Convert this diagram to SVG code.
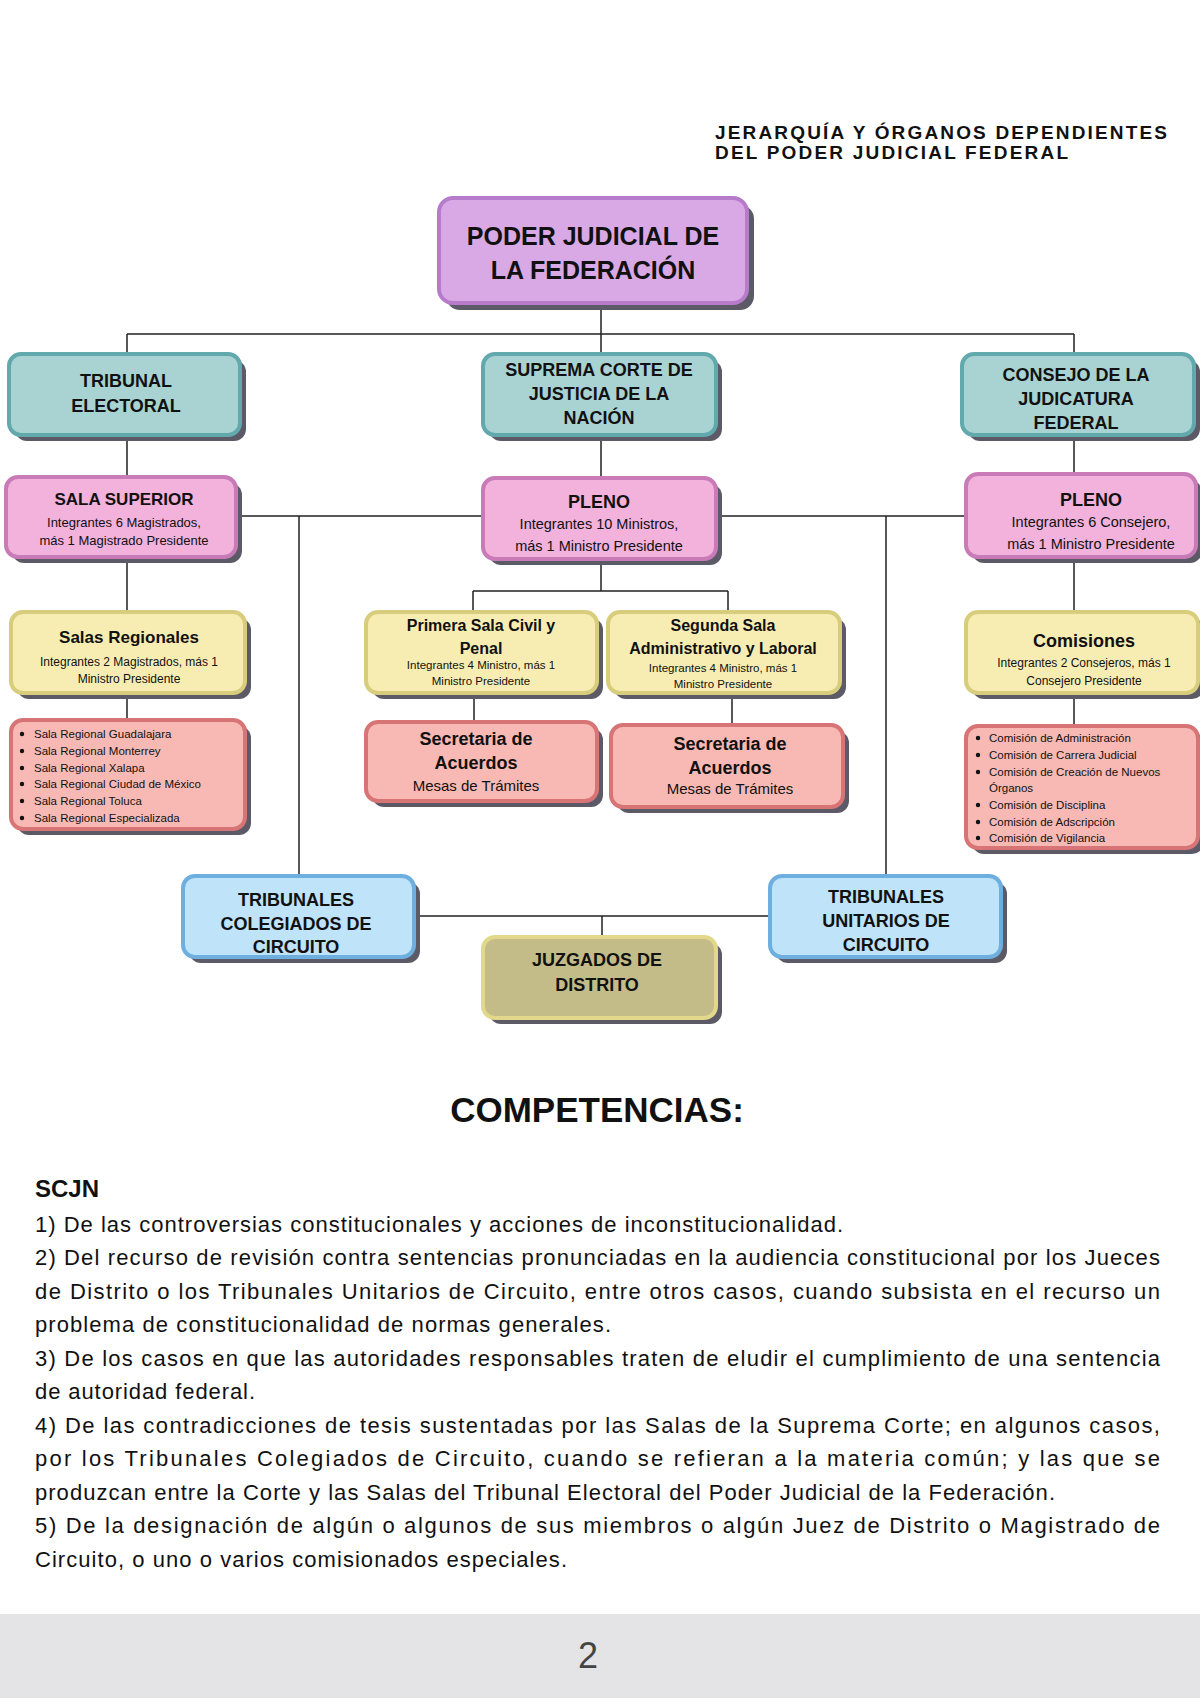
<svg xmlns="http://www.w3.org/2000/svg" width="1200" height="1698" viewBox="0 0 1200 1698">
<style>
text{font-family:"Liberation Sans",Arial,sans-serif;fill:#111}
.sh{fill:#5b5a66}
.b{stroke-width:4}
.pu{fill:#d9a9e5;stroke:#b67ccb}
.te{fill:#a9d3d3;stroke:#62a9ad}
.pk{fill:#f2b2dc;stroke:#c87bb6}
.ye{fill:#f7edb3;stroke:#d8cd7c}
.sa{fill:#f8b9b4;stroke:#d77475}
.bl{fill:#bfe3f9;stroke:#6fafe0}
.ol{fill:#c4bc88;stroke:#e1d88c}
.h{font-weight:bold;text-anchor:middle}
.s{text-anchor:middle}
.c line,.c path{stroke:#222;stroke-width:1.5;fill:none}
.body{font-size:22px;fill:#222}
</style>
<text x="715" y="139" font-size="19" font-weight="bold" textLength="452" lengthAdjust="spacing">JERARQUÍA Y ÓRGANOS DEPENDIENTES</text>
<text x="715" y="159" font-size="19" font-weight="bold" textLength="353" lengthAdjust="spacing">DEL PODER JUDICIAL FEDERAL</text>
<g class="c">
<path d="M601 303V334M127 334H1074M127 334V354M601 334V354M1074 334V354"/>
<path d="M127 435V477M601 435V478M1074 435V474"/>
<path d="M236 516H483M716 516H966"/>
<path d="M299 516V876M886 516V876"/>
<path d="M601 559V591M473 591H728M473 591V612M728 591V612"/>
<path d="M127 557V612M1074 557V612M127 693V720M1074 693V726M474 693V722M732 693V725"/>
<path d="M414 916H770M602 916V937"/>
</g>
<g id="n-poder"><rect class="sh" x="446" y="205" width="308" height="105" rx="14"/><rect class="b pu" x="439" y="198" width="308" height="105" rx="14"/><text class="h" x="593" y="245" font-size="25">PODER JUDICIAL DE</text><text class="h" x="593" y="279" font-size="25">LA FEDERACIÓN</text></g>
<g id="n-tribunal"><rect class="sh" x="15" y="360" width="231" height="81" rx="12"/><rect class="b te" x="9" y="354" width="231" height="81" rx="12"/><text class="h" x="126" y="387" font-size="18">TRIBUNAL</text><text class="h" x="126" y="412" font-size="18">ELECTORAL</text></g>
<g id="n-suprema"><rect class="sh" x="489" y="360" width="233" height="81" rx="12"/><rect class="b te" x="483" y="354" width="233" height="81" rx="12"/><text class="h" x="599" y="376" font-size="18">SUPREMA CORTE DE</text><text class="h" x="599" y="400" font-size="18">JUSTICIA DE LA</text><text class="h" x="599" y="424" font-size="18">NACIÓN</text></g>
<g id="n-consejo"><rect class="sh" x="968" y="360" width="232" height="81" rx="12"/><rect class="b te" x="962" y="354" width="232" height="81" rx="12"/><text class="h" x="1076" y="381" font-size="18">CONSEJO DE LA</text><text class="h" x="1076" y="405" font-size="18">JUDICATURA</text><text class="h" x="1076" y="429" font-size="18">FEDERAL</text></g>
<g id="n-salasup"><rect class="sh" x="12" y="483" width="230" height="80" rx="12"/><rect class="b pk" x="6" y="477" width="230" height="80" rx="12"/><text class="h" x="124" y="505" font-size="17">SALA SUPERIOR</text><text class="s" x="124" y="527" font-size="13">Integrantes 6 Magistrados,</text><text class="s" x="124" y="545" font-size="13">más 1 Magistrado Presidente</text></g>
<g id="n-pleno"><rect class="sh" x="489" y="484" width="233" height="81" rx="12"/><rect class="b pk" x="483" y="478" width="233" height="81" rx="12"/><text class="h" x="599" y="508" font-size="18">PLENO</text><text class="s" x="599" y="529" font-size="14.5">Integrantes 10 Ministros,</text><text class="s" x="599" y="551" font-size="14.5">más 1 Ministro Presidente</text></g>
<g id="n-pleno2"><rect class="sh" x="972" y="480" width="230" height="83" rx="12"/><rect class="b pk" x="966" y="474" width="230" height="83" rx="12"/><text class="h" x="1091" y="506" font-size="18">PLENO</text><text class="s" x="1091" y="527" font-size="14.5">Integrantes 6 Consejero,</text><text class="s" x="1091" y="549" font-size="14.5">más 1 Ministro Presidente</text></g>
<g id="n-salasreg"><rect class="sh" x="17" y="618" width="234" height="81" rx="12"/><rect class="b ye" x="11" y="612" width="234" height="81" rx="12"/><text class="h" x="129" y="643" font-size="17">Salas Regionales</text><text class="s" x="129" y="666" font-size="12">Integrantes 2 Magistrados, más 1</text><text class="s" x="129" y="683" font-size="12">Ministro Presidente</text></g>
<g id="n-primera"><rect class="sh" x="372" y="618" width="231" height="81" rx="12"/><rect class="b ye" x="366" y="612" width="231" height="81" rx="12"/><text class="h" x="481" y="631" font-size="16">Primera Sala Civil y</text><text class="h" x="481" y="654" font-size="16">Penal</text><text class="s" x="481" y="669" font-size="11.5">Integrantes 4 Ministro, más 1</text><text class="s" x="481" y="685" font-size="11.5">Ministro Presidente</text></g>
<g id="n-segunda"><rect class="sh" x="614" y="618" width="232" height="81" rx="12"/><rect class="b ye" x="608" y="612" width="232" height="81" rx="12"/><text class="h" x="723" y="631" font-size="16">Segunda Sala</text><text class="h" x="723" y="654" font-size="16">Administrativo y Laboral</text><text class="s" x="723" y="672" font-size="11.5">Integrantes 4 Ministro, más 1</text><text class="s" x="723" y="688" font-size="11.5">Ministro Presidente</text></g>
<g id="n-comisiones"><rect class="sh" x="972" y="618" width="232" height="81" rx="12"/><rect class="b ye" x="966" y="612" width="232" height="81" rx="12"/><text class="h" x="1084" y="647" font-size="18">Comisiones</text><text class="s" x="1084" y="667" font-size="12">Integrantes 2 Consejeros, más 1</text><text class="s" x="1084" y="685" font-size="12">Consejero Presidente</text></g>
<g id="n-listreg"><rect class="sh" x="17" y="726" width="234" height="109" rx="12"/><rect class="b sa" x="11" y="720" width="234" height="109" rx="12"/>
<g font-size="11.5"><text x="34" y="738">Sala Regional Guadalajara</text><text x="34" y="755">Sala Regional Monterrey</text><text x="34" y="772">Sala Regional Xalapa</text><text x="34" y="788">Sala Regional Ciudad de México</text><text x="34" y="805">Sala Regional Toluca</text><text x="34" y="822">Sala Regional Especializada</text></g>
<g fill="#111"><circle cx="22" cy="734" r="2.2"/><circle cx="22" cy="751" r="2.2"/><circle cx="22" cy="768" r="2.2"/><circle cx="22" cy="784" r="2.2"/><circle cx="22" cy="801" r="2.2"/><circle cx="22" cy="818" r="2.2"/></g></g>
<g id="n-sec1"><rect class="sh" x="372" y="728" width="231" height="79" rx="12"/><rect class="b sa" x="366" y="722" width="231" height="79" rx="12"/><text class="h" x="476" y="745" font-size="18">Secretaria de</text><text class="h" x="476" y="769" font-size="18">Acuerdos</text><text class="s" x="476" y="791" font-size="15">Mesas de Trámites</text></g>
<g id="n-sec2"><rect class="sh" x="617" y="731" width="232" height="82" rx="12"/><rect class="b sa" x="611" y="725" width="232" height="82" rx="12"/><text class="h" x="730" y="750" font-size="18">Secretaria de</text><text class="h" x="730" y="774" font-size="18">Acuerdos</text><text class="s" x="730" y="794" font-size="15">Mesas de Trámites</text></g>
<g id="n-listcom"><rect class="sh" x="972" y="732" width="232" height="122" rx="12"/><rect class="b sa" x="966" y="726" width="232" height="122" rx="12"/>
<g font-size="11.5"><text x="989" y="742">Comisión de Administración</text><text x="989" y="759">Comisión de Carrera Judicial</text><text x="989" y="776">Comisión de Creación de Nuevos</text><text x="989" y="792">Órganos</text><text x="989" y="809">Comisión de Disciplina</text><text x="989" y="826">Comisión de Adscripción</text><text x="989" y="842">Comisión de Vigilancia</text></g>
<g fill="#111"><circle cx="978" cy="738" r="2.2"/><circle cx="978" cy="755" r="2.2"/><circle cx="978" cy="772" r="2.2"/><circle cx="978" cy="805" r="2.2"/><circle cx="978" cy="822" r="2.2"/><circle cx="978" cy="838" r="2.2"/></g></g>
<g id="n-colegiados"><rect class="sh" x="189" y="882" width="231" height="81" rx="12"/><rect class="b bl" x="183" y="876" width="231" height="81" rx="12"/><text class="h" x="296" y="906" font-size="18">TRIBUNALES</text><text class="h" x="296" y="930" font-size="18">COLEGIADOS DE</text><text class="h" x="296" y="953" font-size="18">CIRCUITO</text></g>
<g id="n-unitarios"><rect class="sh" x="776" y="882" width="231" height="81" rx="12"/><rect class="b bl" x="770" y="876" width="231" height="81" rx="12"/><text class="h" x="886" y="903" font-size="18">TRIBUNALES</text><text class="h" x="886" y="927" font-size="18">UNITARIOS DE</text><text class="h" x="886" y="951" font-size="18">CIRCUITO</text></g>
<g id="n-juzgados"><rect class="sh" x="489" y="943" width="233" height="81" rx="12"/><rect class="b ol" x="483" y="937" width="233" height="81" rx="12"/><text class="h" x="597" y="966" font-size="18">JUZGADOS DE</text><text class="h" x="597" y="991" font-size="18">DISTRITO</text></g>
<text class="h" x="597" y="1122" font-size="35">COMPETENCIAS:</text>
<text x="35" y="1197" font-size="24" font-weight="bold">SCJN</text>
<g class="body">
<text x="35" y="1232" textLength="808" lengthAdjust="spacing">1) De las controversias constitucionales y acciones de inconstitucionalidad.</text>
<text x="35" y="1265" textLength="1125" lengthAdjust="spacing">2) Del recurso de revisión contra sentencias pronunciadas en la audiencia constitucional por los Jueces</text>
<text x="35" y="1299" textLength="1125" lengthAdjust="spacing">de Distrito o los Tribunales Unitarios de Circuito, entre otros casos, cuando subsista en el recurso un</text>
<text x="35" y="1332" textLength="576" lengthAdjust="spacing">problema de constitucionalidad de normas generales.</text>
<text x="35" y="1366" textLength="1125" lengthAdjust="spacing">3) De los casos en que las autoridades responsables traten de eludir el cumplimiento de una sentencia</text>
<text x="35" y="1399" textLength="220" lengthAdjust="spacing">de autoridad federal.</text>
<text x="35" y="1433" textLength="1125" lengthAdjust="spacing">4) De las contradicciones de tesis sustentadas por las Salas de la Suprema Corte; en algunos casos,</text>
<text x="35" y="1466" textLength="1125" lengthAdjust="spacing">por los Tribunales Colegiados de Circuito, cuando se refieran a la materia común; y las que se</text>
<text x="35" y="1500" textLength="1020" lengthAdjust="spacing">produzcan entre la Corte y las Salas del Tribunal Electoral del Poder Judicial de la Federación.</text>
<text x="35" y="1533" textLength="1125" lengthAdjust="spacing">5) De la designación de algún o algunos de sus miembros o algún Juez de Distrito o Magistrado de</text>
<text x="35" y="1567" textLength="532" lengthAdjust="spacing">Circuito, o uno o varios comisionados especiales.</text>
</g>
<rect x="0" y="1614" width="1200" height="84" fill="#e4e4e6"/>
<text class="s" x="588" y="1668" font-size="36" style="fill:#444">2</text>
</svg>
